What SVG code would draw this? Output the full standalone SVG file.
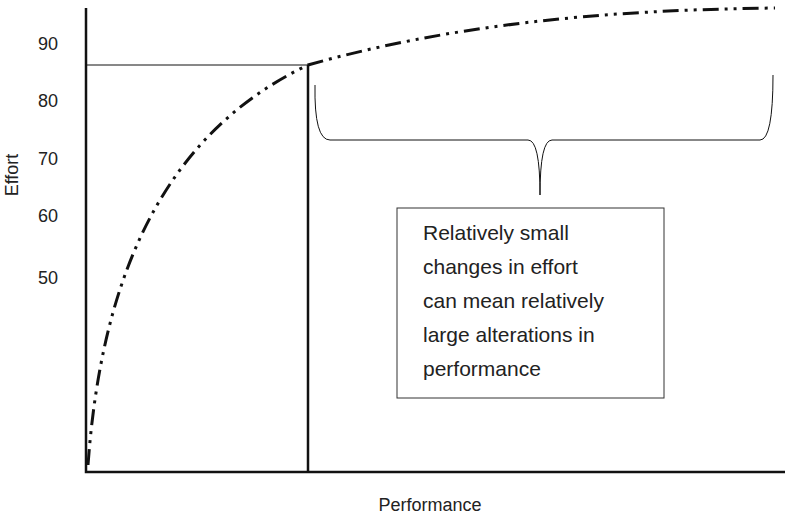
<svg xmlns="http://www.w3.org/2000/svg" width="790" height="524" viewBox="0 0 790 524">
<style>
.t{font-family:"Liberation Sans",Arial,sans-serif;fill:#222}
.ax{font-size:18px}
.bx{font-size:21px}
</style>
<rect width="790" height="524" fill="#fff"/>
<g id="connectors" fill="none" stroke="#111">
<path d="M86,8 V472 H785" stroke-width="2.5"/>
<path d="M86,65 H308" stroke-width="1"/>
<path d="M308,65 V472" stroke-width="2.5"/>
<path d="M88,465 C100,300 150,140 308,65 C450,25 600,10 775,8" stroke-width="3" stroke-dasharray="16,6,3,6,3,6"/>
<path d="M315,85 Q314,140 330,140 H528 Q540,140 540,195 Q540,140 552,140 H760 Q773,140 773,75" stroke-width="1"/>
</g>
<g id="axis-labels">
<text class="t ax" x="38" y="50">90</text>
<text class="t ax" x="38" y="107">80</text>
<text class="t ax" x="38" y="165">70</text>
<text class="t ax" x="38" y="222">60</text>
<text class="t ax" x="38" y="284">50</text>
<text class="t ax" transform="translate(18,175) rotate(-90)" text-anchor="middle">Effort</text>
<text class="t ax" x="430" y="511" text-anchor="middle">Performance</text>
</g>
<g id="note">
<rect x="397" y="208" width="267" height="190" fill="#fff" stroke="#333" stroke-width="1"/>
<text class="t bx" x="423" y="240">Relatively small</text>
<text class="t bx" x="423" y="274">changes in effort</text>
<text class="t bx" x="423" y="308">can mean relatively</text>
<text class="t bx" x="423" y="342">large alterations in</text>
<text class="t bx" x="423" y="376">performance</text>
</g>
</svg>
